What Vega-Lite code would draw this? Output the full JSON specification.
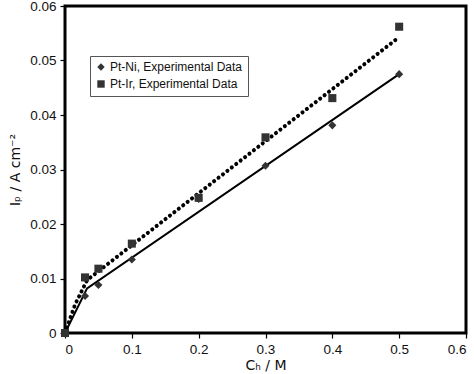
{
  "$schema": "https://vega.github.io/schema/vega-lite/v6.json",
  "width": 401,
  "height": 327,
  "autosize": "none",
  "padding": {"left": 65, "top": 6, "right": 8, "bottom": 41},
  "background": "white",
  "config": {
    "font": "Liberation Sans",
    "view": {"stroke": "black", "strokeWidth": 3},
    "axis": {"grid": false, "domain": false, "ticks": true, "tickColor": "black", "tickSize": 5, "tickWidth": 1.2,
      "labelFontSize": 13.5, "labelColor": "#111", "titleFontSize": 14, "titleFontWeight": "normal", "titleColor": "#111", "labelFont": "Liberation Sans", "titleFont": "DejaVu Sans"}
  },
  "datasets": {
    "pts": [
      {"c": 0, "i": 0, "s": "Pt-Ni, Experimental Data"},
      {"c": 0.03, "i": 0.0068, "s": "Pt-Ni, Experimental Data"},
      {"c": 0.05, "i": 0.0088, "s": "Pt-Ni, Experimental Data"},
      {"c": 0.1, "i": 0.0135, "s": "Pt-Ni, Experimental Data"},
      {"c": 0.2, "i": 0.0246, "s": "Pt-Ni, Experimental Data"},
      {"c": 0.3, "i": 0.0307, "s": "Pt-Ni, Experimental Data"},
      {"c": 0.4, "i": 0.0381, "s": "Pt-Ni, Experimental Data"},
      {"c": 0.5, "i": 0.0475, "s": "Pt-Ni, Experimental Data"},
      {"c": 0, "i": 0, "s": "Pt-Ir, Experimental Data"},
      {"c": 0.03, "i": 0.0102, "s": "Pt-Ir, Experimental Data"},
      {"c": 0.05, "i": 0.0118, "s": "Pt-Ir, Experimental Data"},
      {"c": 0.1, "i": 0.0164, "s": "Pt-Ir, Experimental Data"},
      {"c": 0.2, "i": 0.0248, "s": "Pt-Ir, Experimental Data"},
      {"c": 0.3, "i": 0.0359, "s": "Pt-Ir, Experimental Data"},
      {"c": 0.4, "i": 0.0431, "s": "Pt-Ir, Experimental Data"},
      {"c": 0.5, "i": 0.0562, "s": "Pt-Ir, Experimental Data"}
    ],
    "niModel": [
      {"c": 0, "i": 0},
      {"c": 0.033, "i": 0.0082},
      {"c": 0.5, "i": 0.0475}
    ],
    "irModel": [
      {"c": 0, "i": 0},
      {"c": 0.015, "i": 0.0052},
      {"c": 0.033, "i": 0.0097},
      {"c": 0.5, "i": 0.0543}
    ]
  },
  "encoding": {
    "x": {"field": "c", "type": "quantitative", "scale": {"domain": [0, 0.6], "nice": false},
      "axis": {"values": [0, 0.1, 0.2, 0.3, 0.4, 0.5, 0.6], "format": "~g", "title": "Cₕ / M", "titlePadding": 3, "labelPadding": 4}},
    "y": {"field": "i", "type": "quantitative", "scale": {"domain": [0, 0.06], "nice": false},
      "axis": {"values": [0, 0.01, 0.02, 0.03, 0.04, 0.05, 0.06], "format": "~g", "title": "Iₚ / A cm⁻²", "titlePadding": 7, "labelPadding": 4}}
  },
  "layer": [
    {
      "data": {"name": "niModel"},
      "mark": {"type": "line", "color": "black", "strokeWidth": 2}
    },
    {
      "data": {"name": "irModel"},
      "mark": {"type": "line", "color": "black", "strokeWidth": 4, "strokeDash": [0.1, 5.5], "strokeCap": "round"}
    },
    {
      "data": {"name": "pts"},
      "mark": {"type": "point", "filled": true, "opacity": 1, "color": "#333", "size": 65},
      "encoding": {
        "shape": {"field": "s", "type": "nominal",
          "scale": {"domain": ["Pt-Ni, Experimental Data", "Pt-Ir, Experimental Data"], "range": ["diamond", "square"]},
          "legend": {"title": null, "orient": "none", "legendX": 25, "legendY": 50, "strokeColor": "#555", "padding": 5,
            "labelFontSize": 12, "labelColor": "#111", "symbolFillColor": "#333", "symbolStrokeColor": "#333", "symbolSize": 55,
            "rowPadding": 3, "labelOffset": 3, "fillColor": "white"}
        }
      }
    }
  ]
}
